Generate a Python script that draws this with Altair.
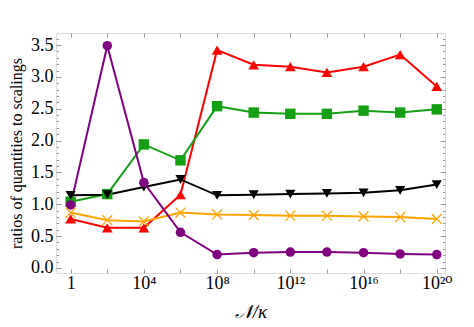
import altair as alt
import pandas as pd

# ---- data ----
x_vals = [1, 1e2, 1e4, 1e6, 1e8, 1e10, 1e12, 1e14, 1e16, 1e18, 1e20]
red = [0.77, 0.63, 0.63, 1.15, 3.42, 3.19, 3.16, 3.07, 3.16, 3.35, 2.85]
green = [1.04, 1.16, 1.94, 1.69, 2.54, 2.44, 2.42, 2.42, 2.47, 2.44, 2.49]
black = [1.14, 1.15, 1.27, 1.39, 1.14, 1.15, 1.16, 1.17, 1.18, 1.22, 1.31]
orange = [0.87, 0.75, 0.73, 0.87, 0.84, 0.83, 0.82, 0.82, 0.81, 0.80, 0.77]
purple = [0.99, 3.49, 1.34, 0.56, 0.21, 0.24, 0.25, 0.25, 0.24, 0.22, 0.21]

series_names = ["red", "green", "black", "orange", "purple"]
series_values = [red, green, black, orange, purple]
colors = ["#ff0000", "#13a013", "#000000", "#ffa500", "#800080"]
shapes = ["triangle-up", "square", "triangle-down", "M-1,-1L1,1M-1,1L1,-1", "circle"]
sizes = [115, 90, 115, 85, 45]

x_tick_values = [1, 1e2, 1e4, 1e6, 1e8, 1e10, 1e12, 1e14, 1e16, 1e18, 1e20]
x_label_exps = [0, 4, 8, 12, 16, 20]
x_label_texts = ["1", "10⁴", "10⁸", "10¹²", "10¹⁶", "10²⁰"]
y_major = [0.0, 0.5, 1.0, 1.5, 2.0, 2.5, 3.0, 3.5]
y_minor = [0.0, 0.1, 0.2, 0.3, 0.4, 0.5, 0.6, 0.7, 0.8, 0.9, 1.0, 1.1, 1.2, 1.3,
           1.4, 1.5, 1.6, 1.7, 1.8, 1.9, 2.0, 2.1, 2.2, 2.3, 2.4, 2.5, 2.6, 2.7,
           2.8, 2.9, 3.0, 3.1, 3.2, 3.3, 3.4, 3.5, 3.6]

rows = []
for name, vals in zip(series_names, series_values):
    for xv, yv in zip(x_vals, vals):
        rows.append({"x": xv, "y": yv, "series": name})
df = pd.DataFrame(rows)

FONT = "Liberation Serif, DejaVu Serif, serif"
FRAME = "#9a9a9a"

xscale = alt.Scale(type="log", domain=[10 ** -0.8, 10 ** 20.45], nice=False)
yscale = alt.Scale(domain=[-0.079, 3.689], nice=False, zero=False)
cscale = alt.Scale(domain=series_names, range=colors)
shscale = alt.Scale(domain=series_names, range=shapes)
szscale = alt.Scale(domain=series_names, range=sizes)

exp_expr = "round(log(datum.value)/LN10)"
lab = "''"
for e, t in reversed(list(zip(x_label_exps, x_label_texts))):
    lab = f"({exp_expr} == {e}) ? '{t}' : {lab}"


def x_axis(orient, labels, title=None):
    kw = dict(orient=orient, values=x_tick_values, tickSize=4, offset=-4,
              domain=False, grid=False, tickColor=FRAME)
    if labels:
        kw.update(labelExpr=lab, labelFontSize=18, labelPadding=1,
                  labelFont=FONT, labelColor="black")
    else:
        kw.update(labels=False)
    if title:
        kw.update(title=title, titleFont=FONT, titleFontSize=19,
                  titleFontStyle="italic", titleFontWeight="normal",
                  titlePadding=10, titleColor="black")
    else:
        kw.update(title=None)
    return alt.Axis(**kw)


def y_axis(orient, values, size, labels, title=None):
    kw = dict(orient=orient, values=values, tickSize=size, offset=-size,
              domain=False, grid=False, tickColor=FRAME)
    if labels:
        kw.update(format=".1f", labelFontSize=18, labelPadding=3,
                  labelFont=FONT, labelColor="black")
    else:
        kw.update(labels=False)
    if title:
        kw.update(title=title, titleFont=FONT, titleFontSize=16,
                  titleFontWeight="normal", titlePadding=6, titleColor="black")
    else:
        kw.update(title=None)
    return alt.Axis(**kw)


base = alt.Chart(df)

lines = base.mark_line(strokeWidth=2).encode(
    x=alt.X("x:Q", scale=xscale, axis=x_axis("bottom", True, "𝒩/κ")),
    y=alt.Y("y:Q", scale=yscale,
            axis=y_axis("left", y_major, 5, True, "ratios of quantities to scalings")),
    color=alt.Color("series:N", scale=cscale, legend=None),
    detail="series:N",
)

points = base.transform_filter(alt.datum.series != "orange").mark_point(
    filled=True, opacity=1
).encode(
    x=alt.X("x:Q", scale=xscale, axis=None),
    y=alt.Y("y:Q", scale=yscale, axis=None),
    color=alt.Color("series:N", scale=cscale, legend=None),
    shape=alt.Shape("series:N", scale=shscale, legend=None),
    size=alt.Size("series:N", scale=szscale, legend=None),
)

crosses = base.transform_filter(alt.datum.series == "orange").mark_point(
    filled=False, opacity=1, strokeWidth=1.3
).encode(
    x=alt.X("x:Q", scale=xscale, axis=None),
    y=alt.Y("y:Q", scale=yscale, axis=None),
    color=alt.Color("series:N", scale=cscale, legend=None),
    shape=alt.Shape("series:N", scale=shscale, legend=None),
    size=alt.Size("series:N", scale=szscale, legend=None),
)

ax_b = base.mark_point(opacity=0).encode(
    x=alt.X("x:Q", scale=xscale, axis=x_axis("top", False)),
    y=alt.Y("y:Q", scale=yscale, axis=y_axis("left", y_minor, 2.5, False)),
)
ax_c = base.mark_point(opacity=0).encode(
    x=alt.X("x:Q", scale=xscale, axis=None),
    y=alt.Y("y:Q", scale=yscale, axis=y_axis("right", y_major, 5, False)),
)
ax_d = base.mark_point(opacity=0).encode(
    x=alt.X("x:Q", scale=xscale, axis=None),
    y=alt.Y("y:Q", scale=yscale, axis=y_axis("right", y_minor, 2.5, False)),
)

chart = alt.layer(lines, points, crosses, ax_b, ax_c, ax_d).resolve_axis(
    x="independent", y="independent"
).properties(
    width=389, height=240,
    autosize=alt.AutoSizeParams(type="none"),
    padding={"left": 56, "top": 33, "right": 29, "bottom": 54},
    background="white",
).configure_view(stroke=FRAME, strokeWidth=1).configure_axis(
    labelFont=FONT, titleFont=FONT
).configure(font=FONT)

chart.save("out.html", embed_options={"renderer": "svg", "actions": False})
